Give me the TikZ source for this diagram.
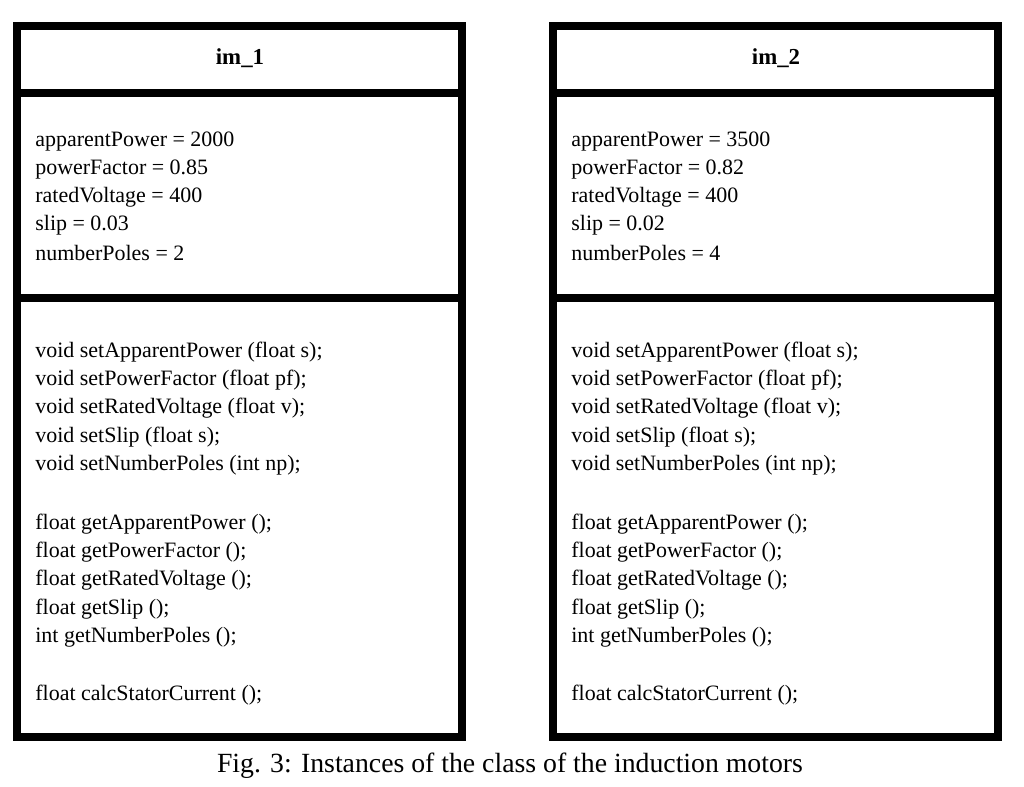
\documentclass[tikz,border=0pt]{standalone}
\usepackage{fontspec}
\setmainfont{Liberation Serif}
\begin{document}
\begin{tikzpicture}[x=0.02cm,y=-0.02cm,
  box/.style={draw,line width=4.4pt},
  sep/.style={line width=4pt},
  txt/.style={anchor=base west,inner sep=0pt,font=\fontsize{12.5}{15}\selectfont},
  ttl/.style={anchor=base,inner sep=0pt,font=\bfseries\fontsize{13}{15}\selectfont}]
\useasboundingbox (0,0) rectangle (1024,787);
\foreach \x/\nm/\ap/\pf/\sl/\np in {17/1/2000/0.85/0.03/2, 553/2/3500/0.82/0.02/4}{
  \draw[box] (\x,26) rectangle (\x+445,737);
  \draw[sep] (\x,93) -- (\x+445,93);
  \draw[sep] (\x,298) -- (\x+445,298);
  \node[ttl] (t\nm) at (\x+223,65) {im\_\nm};
  \node[txt] (a\nm) at (\x+18,147) {apparentPower = \ap};
  \node[txt] at (\x+18,175) {powerFactor = \pf};
  \node[txt] at (\x+18,203) {ratedVoltage = 400};
  \node[txt] at (\x+18,231) {slip = \sl};
  \node[txt] at (\x+18,260) {numberPoles = \np};
  \node[txt] at (\x+18,357) {void setApparentPower (float s);};
  \node[txt] at (\x+18,385) {void setPowerFactor (float pf);};
  \node[txt] at (\x+18,413) {void setRatedVoltage (float v);};
  \node[txt] at (\x+18,442) {void setSlip (float s);};
  \node[txt] at (\x+18,470) {void setNumberPoles (int np);};
  \node[txt] at (\x+18,529) {float getApparentPower ();};
  \node[txt] at (\x+18,557) {float getPowerFactor ();};
  \node[txt] at (\x+18,585) {float getRatedVoltage ();};
  \node[txt] at (\x+18,614) {float getSlip ();};
  \node[txt] at (\x+18,642) {int getNumberPoles ();};
  \node[txt] at (\x+18,700) {float calcStatorCurrent ();};
}
\node[anchor=base,inner sep=0pt,font=\fontsize{15.8}{18}\selectfont] (cap) at (510,772) {Fig. 3: Instances of the class of the induction motors};
\end{tikzpicture}
\end{document}
